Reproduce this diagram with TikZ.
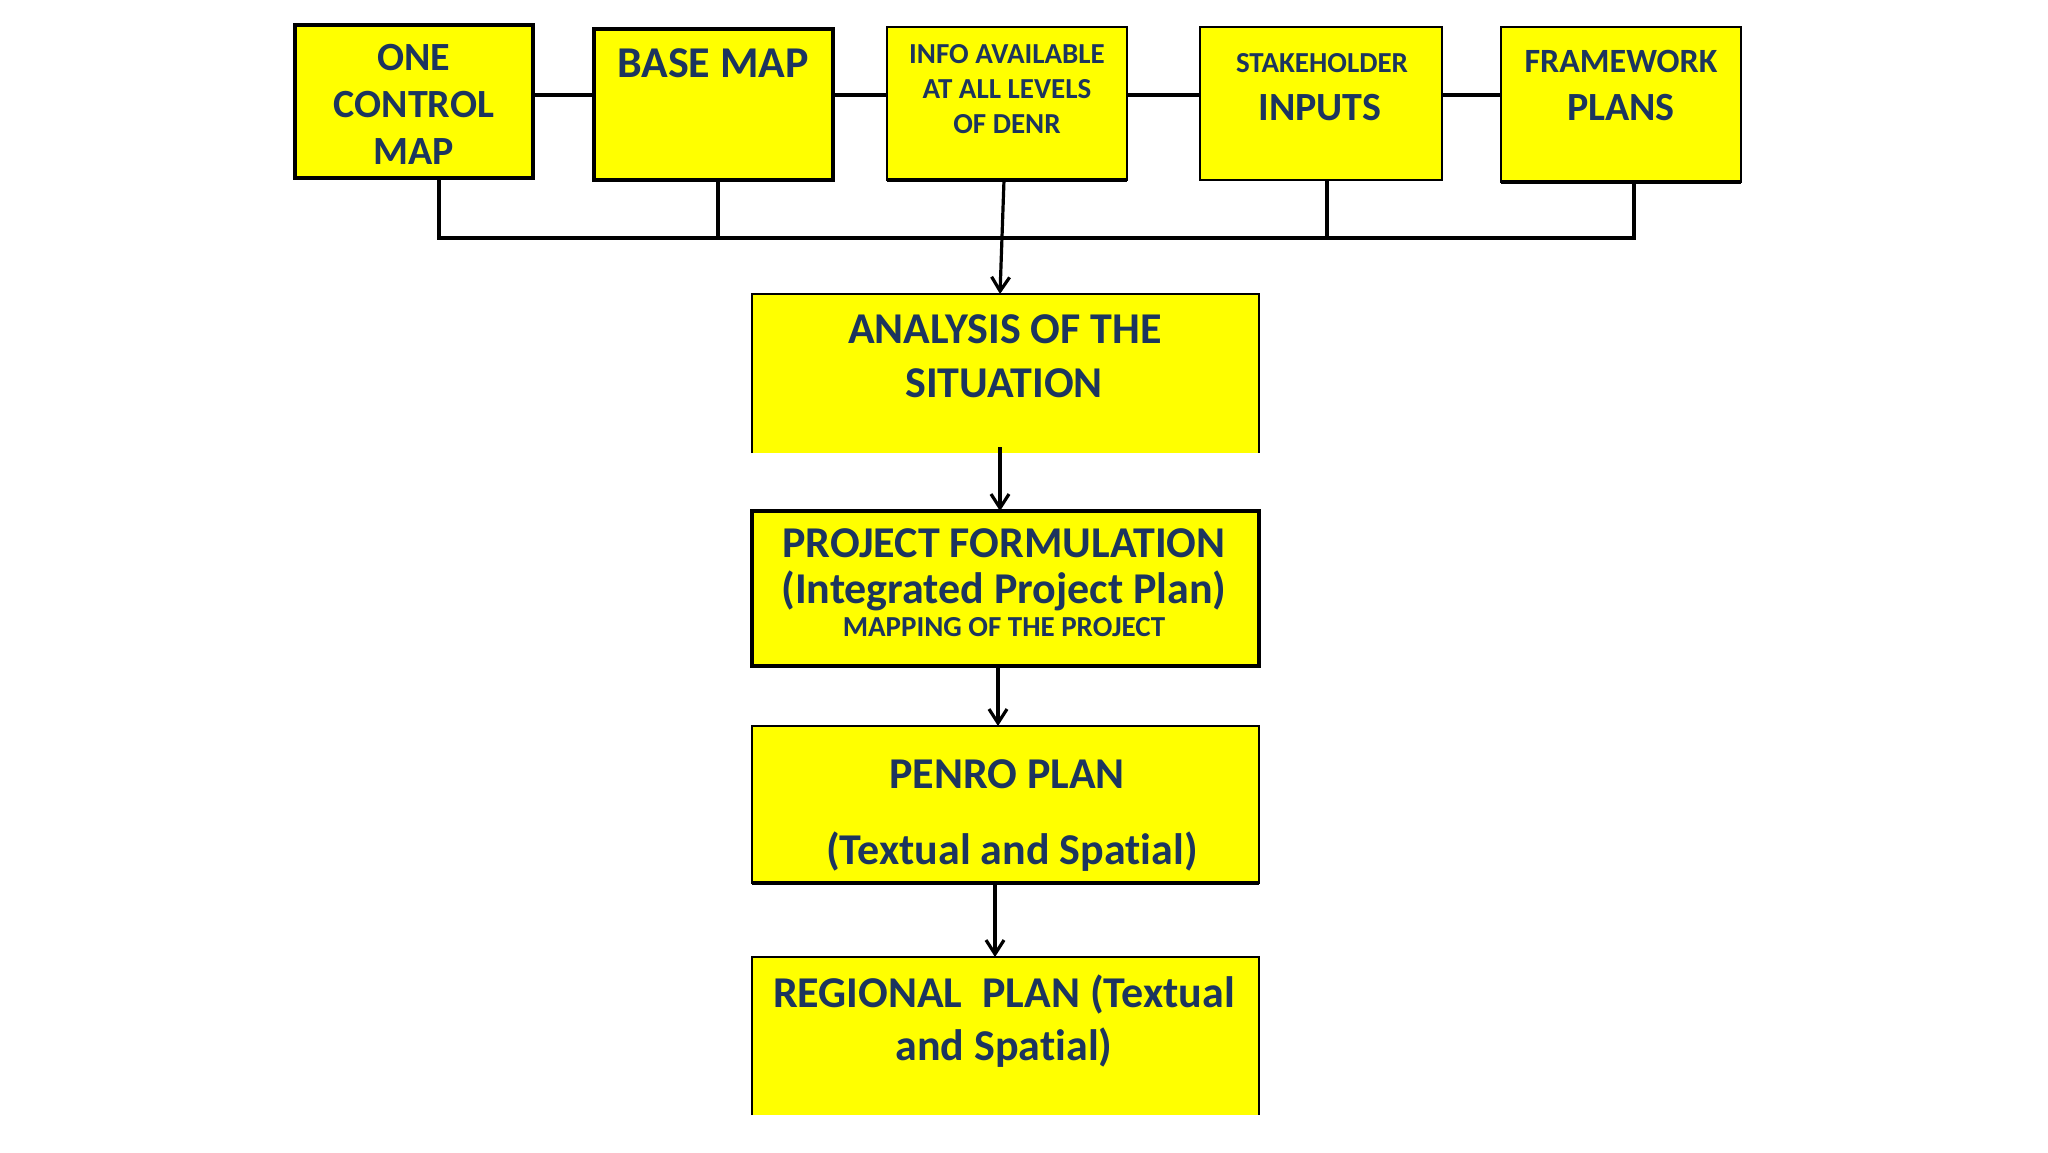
\documentclass[tikz,border=0pt]{standalone}
\usepackage{fontspec}
\setmainfont[Ligatures=NoCommon]{Carlito}
\usetikzlibrary{arrows.meta}
\definecolor{boxyellow}{HTML}{FFFF00}
\definecolor{txtblue}{HTML}{1C355E}
\tikzset{
  ybox/.style={rectangle, fill=boxyellow, inner sep=0pt, outer sep=0pt},
  thickb/.style={draw=black, line width=4.5pt},
  thinb/.style={draw=black, line width=2.5pt},
  lbl/.style={text=txtblue, inner sep=0pt, anchor=base},
  fa/.style={font={\bfseries\fontsize{44}{52}\selectfont}},
  fb/.style={font={\bfseries\fontsize{40}{48}\selectfont}},
  fc/.style={font={\bfseries\fontsize{34}{40}\selectfont}},
  fd/.style={font={\bfseries\fontsize{29}{35}\selectfont}},
  link/.style={draw=black, line width=3.2pt},
  arr/.style={link, -{Straight Barb[length=14pt,width=18pt]}},
}
\begin{document}
\begin{tikzpicture}[x=1pt,y=-1pt]
\useasboundingbox (0,0) rectangle (2048,1152);
\fill[white] (0,0) rectangle (2048,1152);

% top row boxes
\node[ybox, thickb, minimum width=238pt, minimum height=153pt] (b1) at (414,101.5) {};
\node[ybox, thickb, minimum width=239pt, minimum height=151pt] (b2) at (713.5,104.5) {};
\node[ybox, thinb, minimum width=240pt, minimum height=153pt] (b3) at (1007,103.5) {};
\node[ybox, thinb, minimum width=242pt, minimum height=153pt] (b4) at (1321,103.5) {};
\node[ybox, thinb, minimum width=240pt, minimum height=155pt] (b5) at (1621,104.5) {};
\draw[line width=4pt] (b3.south west) -- (b3.south east);
\draw[line width=3.5pt] (b5.south west) -- (b5.south east);

% lower boxes
\node[ybox, minimum width=507pt, minimum height=159pt] (an) at (1005.5,373.5) {};
\draw[thinb] (an.south west) -- (an.north west) -- (an.north east) -- (an.south east);
\node[ybox, thickb, minimum width=507pt, minimum height=155pt] (pf) at (1005.5,588.5) {};
\node[ybox, thinb, minimum width=507pt, minimum height=157pt] (pe) at (1005.5,804.5) {};
\draw[line width=4.5pt] (pe.south west) -- (pe.south east);
\node[ybox, minimum width=507pt, minimum height=158pt] (rg) at (1005.5,1036) {};
\draw[thinb] (rg.south west) -- (rg.north west) -- (rg.north east) -- (rg.south east);

% labels
\node[lbl, fb] (t1a) at (414,70) {ONE};
\node[lbl, fb] (t1b) at (414,117) {CONTROL};
\node[lbl, fb] (t1c) at (414,164) {MAP};
\node[lbl, fa] (t2) at (713,77) {BASE MAP};
\node[lbl, fd] (t3a) at (1007,63) {INFO AVAILABLE};
\node[lbl, fd] (t3b) at (1007,98) {AT ALL LEVELS};
\node[lbl, fd] (t3c) at (1007,133) {OF DENR};
\node[lbl, fd] (t4a) at (1322,72) {STAKEHOLDER};
\node[lbl, fb] (t4b) at (1320,120) {INPUTS};
\node[lbl, fc] (t5a) at (1621,72) {FRAMEWORK};
\node[lbl, fb] (t5b) at (1621,120) {PLANS};
\node[lbl, fa] (tan1) at (1005,343) {ANALYSIS OF THE};
\node[lbl, fa] (tan2) at (1004,397) {SITUATION};
\node[lbl, fa] (tpf1) at (1004,557) {PROJECT FORMULATION};
\node[lbl, fa] (tpf2) at (1004,603) {(Integrated Project Plan)};
\node[lbl, fd] (tpf3) at (1004,636) {MAPPING OF THE PROJECT};
\node[lbl, fa] (tpe1) at (1007,788) {PENRO PLAN};
\node[lbl, fa] (tpe2) at (1012,864) {(Textual and Spatial)};
\node[lbl, fa] (trg1) at (1004,1007) {REGIONAL\ \ PLAN (Textual};
\node[lbl, fa] (trg2) at (1004,1060) {and Spatial)};

% horizontal links between top boxes
\coordinate (hy) at (0,95);
\draw[link] (b1.east |- hy) -- (b2.west |- hy);
\draw[link] (b2.east |- hy) -- (b3.west |- hy);
\draw[link] (b3.east |- hy) -- (b4.west |- hy);
\draw[link] (b4.east |- hy) -- (b5.west |- hy);

% bus
\coordinate (d1) at (439,238);
\coordinate (d2) at (718,238);
\coordinate (d4) at (1327,238);
\coordinate (d5) at (1634,238);
\draw[link, line join=miter] (d1 |- b1.south) -- (d1) -- (d5) -- (d5 |- b5.south);
\draw[link] (d2 |- b2.south) -- (d2);
\draw[link] (d4 |- b4.south) -- (d4);

% arrows
\draw[arr] ([xshift=-3pt]b3.south) -- ([xshift=-5.5pt]an.north);
\draw[arr] ([xshift=-5.5pt,yshift=6pt]an.south) -- ([xshift=-5.5pt]pf.north);
\draw[arr] ([xshift=-7.5pt]pf.south) -- ([xshift=-7.5pt]pe.north);
\draw[arr] ([xshift=-10.5pt]pe.south) -- ([xshift=-10.5pt]rg.north);
\end{tikzpicture}
\end{document}
